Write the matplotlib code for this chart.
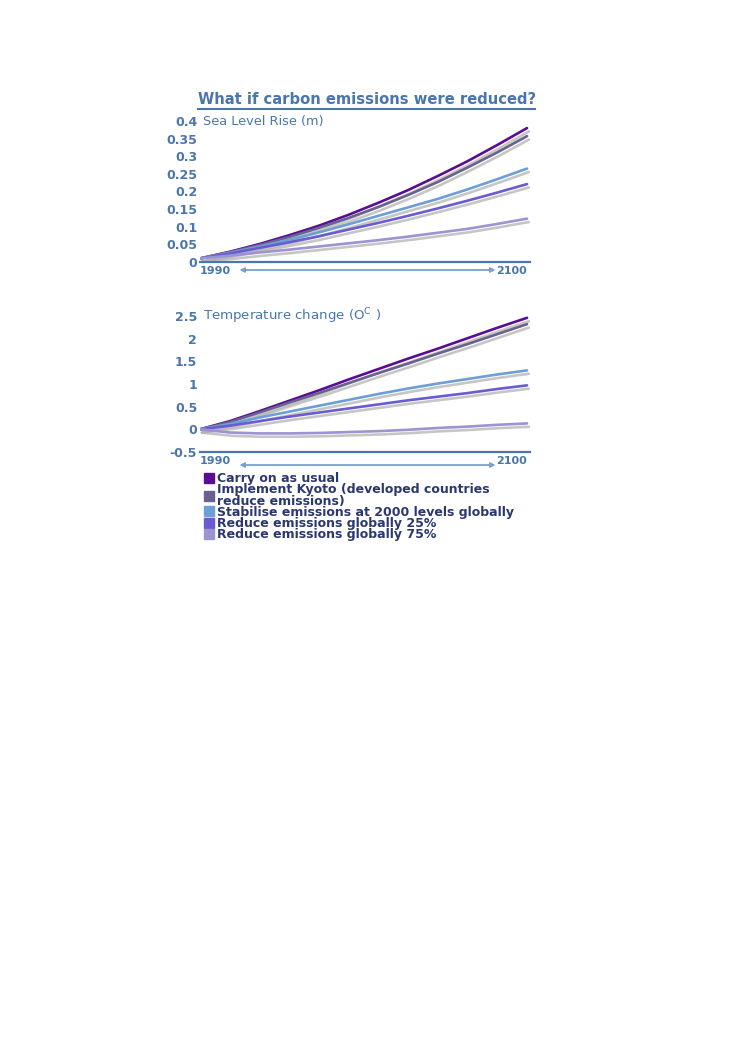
import matplotlib.pyplot as plt
import matplotlib.patheffects as pe
from matplotlib.lines import Line2D

years = [1990, 2000, 2010, 2020, 2030, 2040, 2050, 2060, 2070, 2080, 2090, 2100]

series_names = ["Carry on as usual",
                "Implement Kyoto (developed countries\nreduce emissions)",
                "Stabilise emissions at 2000 levels globally",
                "Reduce emissions globally 25%",
                "Reduce emissions globally 75%"]
series_colors = ["#5a0c96", "#68628e", "#6c9ed8", "#6a5bd2", "#9c94d2"]

# sea level rise (m)
sea_carry = [0.010, 0.029, 0.051, 0.076, 0.103, 0.134, 0.168, 0.204, 0.244, 0.286, 0.332, 0.380]
sea_kyoto = [0.010, 0.028, 0.048, 0.071, 0.097, 0.125, 0.156, 0.190, 0.227, 0.268, 0.311, 0.357]
sea_stab = [0.010, 0.026, 0.044, 0.063, 0.084, 0.107, 0.131, 0.155, 0.179, 0.206, 0.235, 0.265]
sea_25 = [0.010, 0.024, 0.040, 0.056, 0.073, 0.092, 0.111, 0.131, 0.152, 0.174, 0.197, 0.221]
sea_75 = [0.010, 0.018, 0.027, 0.035, 0.044, 0.053, 0.062, 0.072, 0.083, 0.094, 0.108, 0.123]

# temperature change
tmp_carry = [0.0, 0.18, 0.40, 0.63, 0.86, 1.10, 1.33, 1.56, 1.78, 2.01, 2.24, 2.46]
tmp_kyoto = [0.0, 0.16, 0.37, 0.59, 0.80, 1.02, 1.24, 1.45, 1.67, 1.88, 2.10, 2.32]
tmp_stab = [0.0, 0.12, 0.26, 0.39, 0.52, 0.65, 0.78, 0.90, 1.01, 1.11, 1.21, 1.30]
tmp_25 = [0.0, 0.08, 0.18, 0.28, 0.37, 0.46, 0.55, 0.64, 0.72, 0.80, 0.89, 0.97]
tmp_75 = [0.0, -0.07, -0.09, -0.09, -0.08, -0.06, -0.04, -0.01, 0.03, 0.06, 0.10, 0.13]

sea_ticks = [0, 0.05, 0.1, 0.15, 0.2, 0.25, 0.3, 0.35, 0.4]
sea_ticklabels = ["0", "0.05", "0.1", "0.15", "0.2", "0.25", "0.3", "0.35", "0.4"]
tmp_ticks = [-0.5, 0, 0.5, 1, 1.5, 2, 2.5]
tmp_ticklabels = ["-0.5", "0", "0.5", "1", "1.5", "2", "2.5"]

BLUE = "#4a76ad"
TXT = "#2b3870"
ARROW = "#7c9fd2"

plt.rcParams['mathtext.default'] = 'regular'
fig = plt.figure(figsize=(7.44, 10.52), dpi=100)

W, H = 744.0, 1052.0


def make_axes(x0, x1, ytop, ybot):
    return fig.add_axes([x0 / W, 1 - ybot / H, (x1 - x0) / W, (ybot - ytop) / H])


def style(ax, ticks, labels, ylim, caption, csize, arrow_y):
    ax.set_xlim(1990, 2101)
    ax.set_ylim(*ylim)
    for s in ["top", "right", "left"]:
        ax.spines[s].set_visible(False)
    ax.spines["bottom"].set_color(BLUE)
    ax.spines["bottom"].set_linewidth(1.6)
    ax.set_yticks(ticks)
    ax.set_yticklabels(labels, fontsize=9, fontweight="bold", color=BLUE)
    ax.tick_params(axis="y", length=0, pad=2)
    ax.set_xticks([1990, 2100])
    xl = ax.set_xticklabels(["1990", "2100"], fontsize=8, fontweight="bold", color=BLUE)
    xl[0].set_ha("left")
    xl[1].set_ha("right")
    ax.tick_params(axis="x", length=0, pad=3)
    ax.patch.set_visible(False)
    ax.text(0.01, 1.0, caption, transform=ax.transAxes, fontsize=csize, color=BLUE,
            va="center", ha="left")
    fig.add_artist(plt.annotate("", xy=(498 / W, 1 - arrow_y / H), xytext=(237 / W, 1 - arrow_y / H),
                                xycoords="figure fraction", textcoords="figure fraction",
                                arrowprops=dict(arrowstyle="<|-|>", color=ARROW, lw=1.0,
                                                mutation_scale=7)))


def draw(ax, data):
    for vals, c in zip(data, series_colors):
        ax.plot(years, vals, color=c, lw=1.9, solid_capstyle="round",
                path_effects=[pe.SimpleLineShadow(offset=(1.5, -2.4), shadow_color="#b4b4b4", alpha=0.75),
                              pe.Normal()])


ax1 = make_axes(200, 530, 121, 262)
draw(ax1, [sea_carry, sea_kyoto, sea_stab, sea_25, sea_75])
style(ax1, sea_ticks, sea_ticklabels, (0, 0.4), "Sea Level Rise (m)", 9.3, 270)

ax2 = make_axes(200, 530, 316, 452)
draw(ax2, [tmp_carry, tmp_kyoto, tmp_stab, tmp_25, tmp_75])
style(ax2, tmp_ticks, tmp_ticklabels, (-0.5, 2.5), r"Temperature change (O$^{C}$ )", 9.6, 465)

# title with underline
fig.text(198 / W, 1 - 100 / H, "What if carbon emissions were reduced?", fontsize=10.6,
         fontweight="bold", color=BLUE, ha="left", va="center")
fig.add_artist(Line2D([198 / W, 535 / W], [1 - 108.5 / H, 1 - 108.5 / H], color=BLUE, lw=1.5))

handles = [Line2D([], [], marker="s", linestyle="none", markersize=7, markerfacecolor=c,
                  markeredgecolor=c) for c in series_colors]
leg = fig.legend(handles, series_names, loc="upper left", bbox_to_anchor=(204 / W, 1 - 472 / H),
                 frameon=False, handlelength=0.75, handletextpad=0.3, labelspacing=-0.15,
                 borderpad=0, borderaxespad=0,
                 prop=dict(size=9, weight="bold"))
for t in leg.get_texts():
    t.set_color(TXT)
    t.set_linespacing(0.85)

fig.savefig("out.png", dpi=100)
